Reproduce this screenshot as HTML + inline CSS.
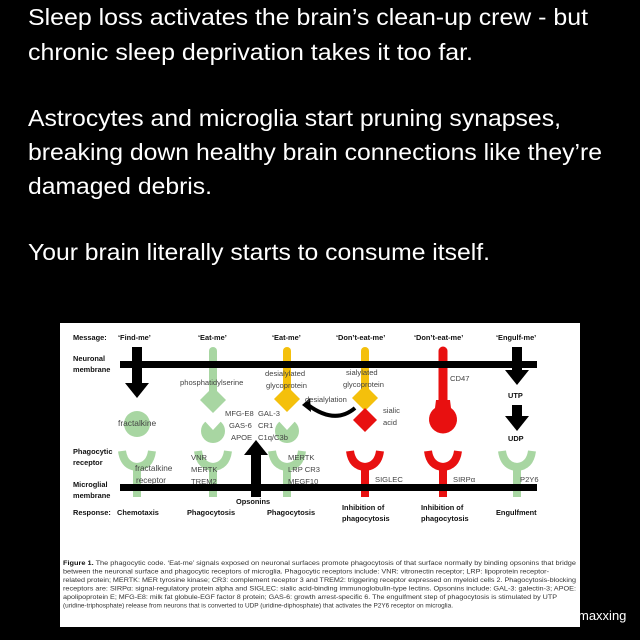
<!DOCTYPE html>
<html><head><meta charset="utf-8"><style>
html,body{margin:0;padding:0;background:#000;}
svg{display:block}
.t{font-family:"Liberation Sans",sans-serif;fill:#fff;font-size:23px}
.d{font-family:"Liberation Sans",sans-serif;fill:#444;font-size:7.6px}
.b{font-family:"Liberation Sans",sans-serif;fill:#111;font-size:7.4px;font-weight:bold}
.c{font-family:"Liberation Sans",sans-serif;fill:#333;font-size:6.2px}
</style></head><body>
<svg width="640" height="640" viewBox="0 0 640 640" xmlns="http://www.w3.org/2000/svg">
<rect width="640" height="640" fill="#000"/>
<text class="t" x="28" y="25" textLength="560" lengthAdjust="spacingAndGlyphs">Sleep loss activates the brain’s clean-up crew - but</text>
<text class="t" x="28" y="60" textLength="445" lengthAdjust="spacingAndGlyphs">chronic sleep deprivation takes it too far.</text>
<text class="t" x="28" y="126" textLength="533" lengthAdjust="spacingAndGlyphs">Astrocytes and microglia start pruning synapses,</text>
<text class="t" x="28" y="160" textLength="574" lengthAdjust="spacingAndGlyphs">breaking down healthy brain connections like they’re</text>
<text class="t" x="28" y="194" textLength="184" lengthAdjust="spacingAndGlyphs">damaged debris.</text>
<text class="t" x="28" y="260" textLength="462" lengthAdjust="spacingAndGlyphs">Your brain literally starts to consume itself.</text>

<rect x="60" y="323" width="520" height="304" fill="#fff"/>

<g class="b">
<text x="73" y="340">Message:</text>
<text x="118" y="340">‘Find-me’</text>
<text x="198" y="340">‘Eat-me’</text>
<text x="272" y="340">‘Eat-me’</text>
<text x="336" y="340">‘Don’t-eat-me’</text>
<text x="414" y="340">‘Don’t-eat-me’</text>
<text x="496" y="340">‘Engulf-me’</text>
<text x="73" y="361">Neuronal</text>
<text x="73" y="372">membrane</text>
<text x="73" y="454">Phagocytic</text>
<text x="73" y="465">receptor</text>
<text x="73" y="487">Microglial</text>
<text x="73" y="498">membrane</text>
<text x="73" y="515">Response:</text>
<text x="117" y="515">Chemotaxis</text>
<text x="187" y="515">Phagocytosis</text>
<text x="267" y="515">Phagocytosis</text>
<text x="342" y="510">Inhibition of</text>
<text x="342" y="521">phagocytosis</text>
<text x="421" y="510">Inhibition of</text>
<text x="421" y="521">phagocytosis</text>
<text x="496" y="515">Engulfment</text>
<text x="236" y="504">Opsonins</text>
<text x="508" y="398">UTP</text>
<text x="508" y="441">UDP</text>
</g>

<g fill="none" stroke-width="8" stroke-linecap="butt">
<g stroke="#a8d6a2">
<path d="M122 451 Q124 466 137 467 Q150 466 152 451"/><line x1="137" y1="466" x2="137" y2="497"/>
<path d="M198 451 Q200 466 213 467 Q226 466 228 451"/><line x1="213" y1="466" x2="213" y2="497"/>
<path d="M272 451 Q274 466 287 467 Q300 466 302 451"/><line x1="287" y1="466" x2="287" y2="497"/>
<path d="M502 451 Q504 466 517 467 Q530 466 532 451"/><line x1="517" y1="466" x2="517" y2="497"/>
</g>
<g stroke="#e81010">
<path d="M350 451 Q352 466 365 467 Q378 466 380 451"/><line x1="365" y1="466" x2="365" y2="497"/>
<path d="M428 451 Q430 466 443 467 Q456 466 458 451"/><line x1="443" y1="466" x2="443" y2="497"/>
</g>
<line x1="213" y1="351" x2="213" y2="392" stroke="#a8d6a2" stroke-linecap="round"/>
<line x1="287" y1="351" x2="287" y2="392" stroke="#f4c00c" stroke-linecap="round"/>
<line x1="365" y1="351" x2="365" y2="392" stroke="#f4c00c" stroke-linecap="round"/>
<line x1="443" y1="351" x2="443" y2="410" stroke="#e81010" stroke-width="9" stroke-linecap="round"/>
</g>
<rect x="120" y="361" width="417" height="7" fill="#000"/>
<rect x="120" y="484" width="417" height="7" fill="#000"/>

<circle cx="137" cy="424" r="13" fill="#a8d6a2"/>
<polygon points="213,387 226,400 213,413 200,400" fill="#a8d6a2"/>
<polygon points="287,386 300,399 287,412 274,399" fill="#f4c00c"/>
<polygon points="365,385 378,398 365,411 352,398" fill="#f4c00c"/>
<polygon points="365,408 377,420 365,432 353,420" fill="#e81010"/>
<circle cx="213" cy="431" r="12" fill="#a8d6a2"/>
<polygon points="201,417 225,417 213,430" fill="#fff"/>
<circle cx="287" cy="431" r="12" fill="#a8d6a2"/>
<polygon points="275,417 299,417 287,430" fill="#fff"/>
<path d="M436 400 L450 400 L451 408 A14 14 0 1 1 435 408 Z" fill="#e81010"/>

<g fill="#000">
<rect x="132" y="347" width="10" height="37"/><polygon points="125,383 149,383 137,398"/>
<rect x="512" y="347" width="10" height="24"/><polygon points="505,370 529,370 517,385"/>
<rect x="512" y="405" width="10" height="13"/><polygon points="505,416 529,416 517,431"/>
<rect x="251" y="454" width="10" height="43"/><polygon points="244,455 268,455 256,440"/>
<polygon points="302,405 310,398 311,412"/>
</g>
<path d="M355 408 Q335 425 308 405" fill="none" stroke="#000" stroke-width="4"/>

<g class="d">
<text x="180" y="385">phosphatidylserine</text>
<text x="265" y="376">desialylated</text>
<text x="266" y="388">glycoprotein</text>
<text x="346" y="375">sialylated</text>
<text x="343" y="387">glycoprotein</text>
<text x="305" y="402">desialylation</text>
<text x="383" y="413">sialic</text>
<text x="383" y="425">acid</text>
<text x="450" y="381">CD47</text>
<text x="118" y="426" font-size="8.4">fractalkine</text>
<text x="135" y="471" font-size="8.2">fractalkine</text>
<text x="136" y="483" font-size="8.2">receptor</text>
<text x="225" y="416">MFG-E8</text><text x="258" y="416">GAL-3</text>
<text x="229" y="428">GAS-6</text><text x="258" y="428">CR1</text>
<text x="231" y="440">APOE</text><text x="258" y="440">C1q/C3b</text>
<text x="191" y="460">VNR</text>
<text x="191" y="472">MERTK</text>
<text x="191" y="484">TREM2</text>
<text x="288" y="460">MERTK</text>
<text x="288" y="472">LRP  CR3</text>
<text x="288" y="484">MEGF10</text>
<text x="375" y="482">SIGLEC</text>
<text x="453" y="482">SIRPα</text>
<text x="520" y="482">P2Y6</text>
</g>

<g class="c">
<text x="63" y="565" textLength="513" lengthAdjust="spacingAndGlyphs"><tspan font-weight="bold" fill="#111">Figure 1.</tspan> The phagocytic code. ‘Eat-me’ signals exposed on neuronal surfaces promote phagocytosis of that surface normally by binding opsonins that bridge</text>
<text x="63" y="573.5" textLength="486" lengthAdjust="spacingAndGlyphs">between the neuronal surface and phagocytic receptors of microglia. Phagocytic receptors include: VNR: vitronectin receptor; LRP: lipoprotein receptor-</text>
<text x="63" y="582" textLength="513" lengthAdjust="spacingAndGlyphs">related protein; MERTK: MER tyrosine kinase; CR3: complement receptor 3 and TREM2: triggering receptor expressed on myeloid cells 2. Phagocytosis-blocking</text>
<text x="63" y="590.5" textLength="513" lengthAdjust="spacingAndGlyphs">receptors are: SIRPα: signal-regulatory protein alpha and SIGLEC: sialic acid-binding immunoglobulin-type lectins. Opsonins include: GAL-3: galectin-3; APOE:</text>
<text x="63" y="599" textLength="494" lengthAdjust="spacingAndGlyphs">apolipoprotein E; MFG-E8: milk fat globule-EGF factor 8 protein; GAS-6: growth arrest-specific 6. The engulfment step of phagocytosis is stimulated by UTP</text>
<text x="63" y="607.5" textLength="390" lengthAdjust="spacingAndGlyphs">(uridine-triphosphate) release from neurons that is converted to UDP (uridine-diphosphate) that activates the P2Y6 receptor on microglia.</text>
</g>
<text x="578" y="620" font-family="Liberation Sans, sans-serif" font-size="13" fill="#fff">maxxing</text>
</svg>
</body></html>
